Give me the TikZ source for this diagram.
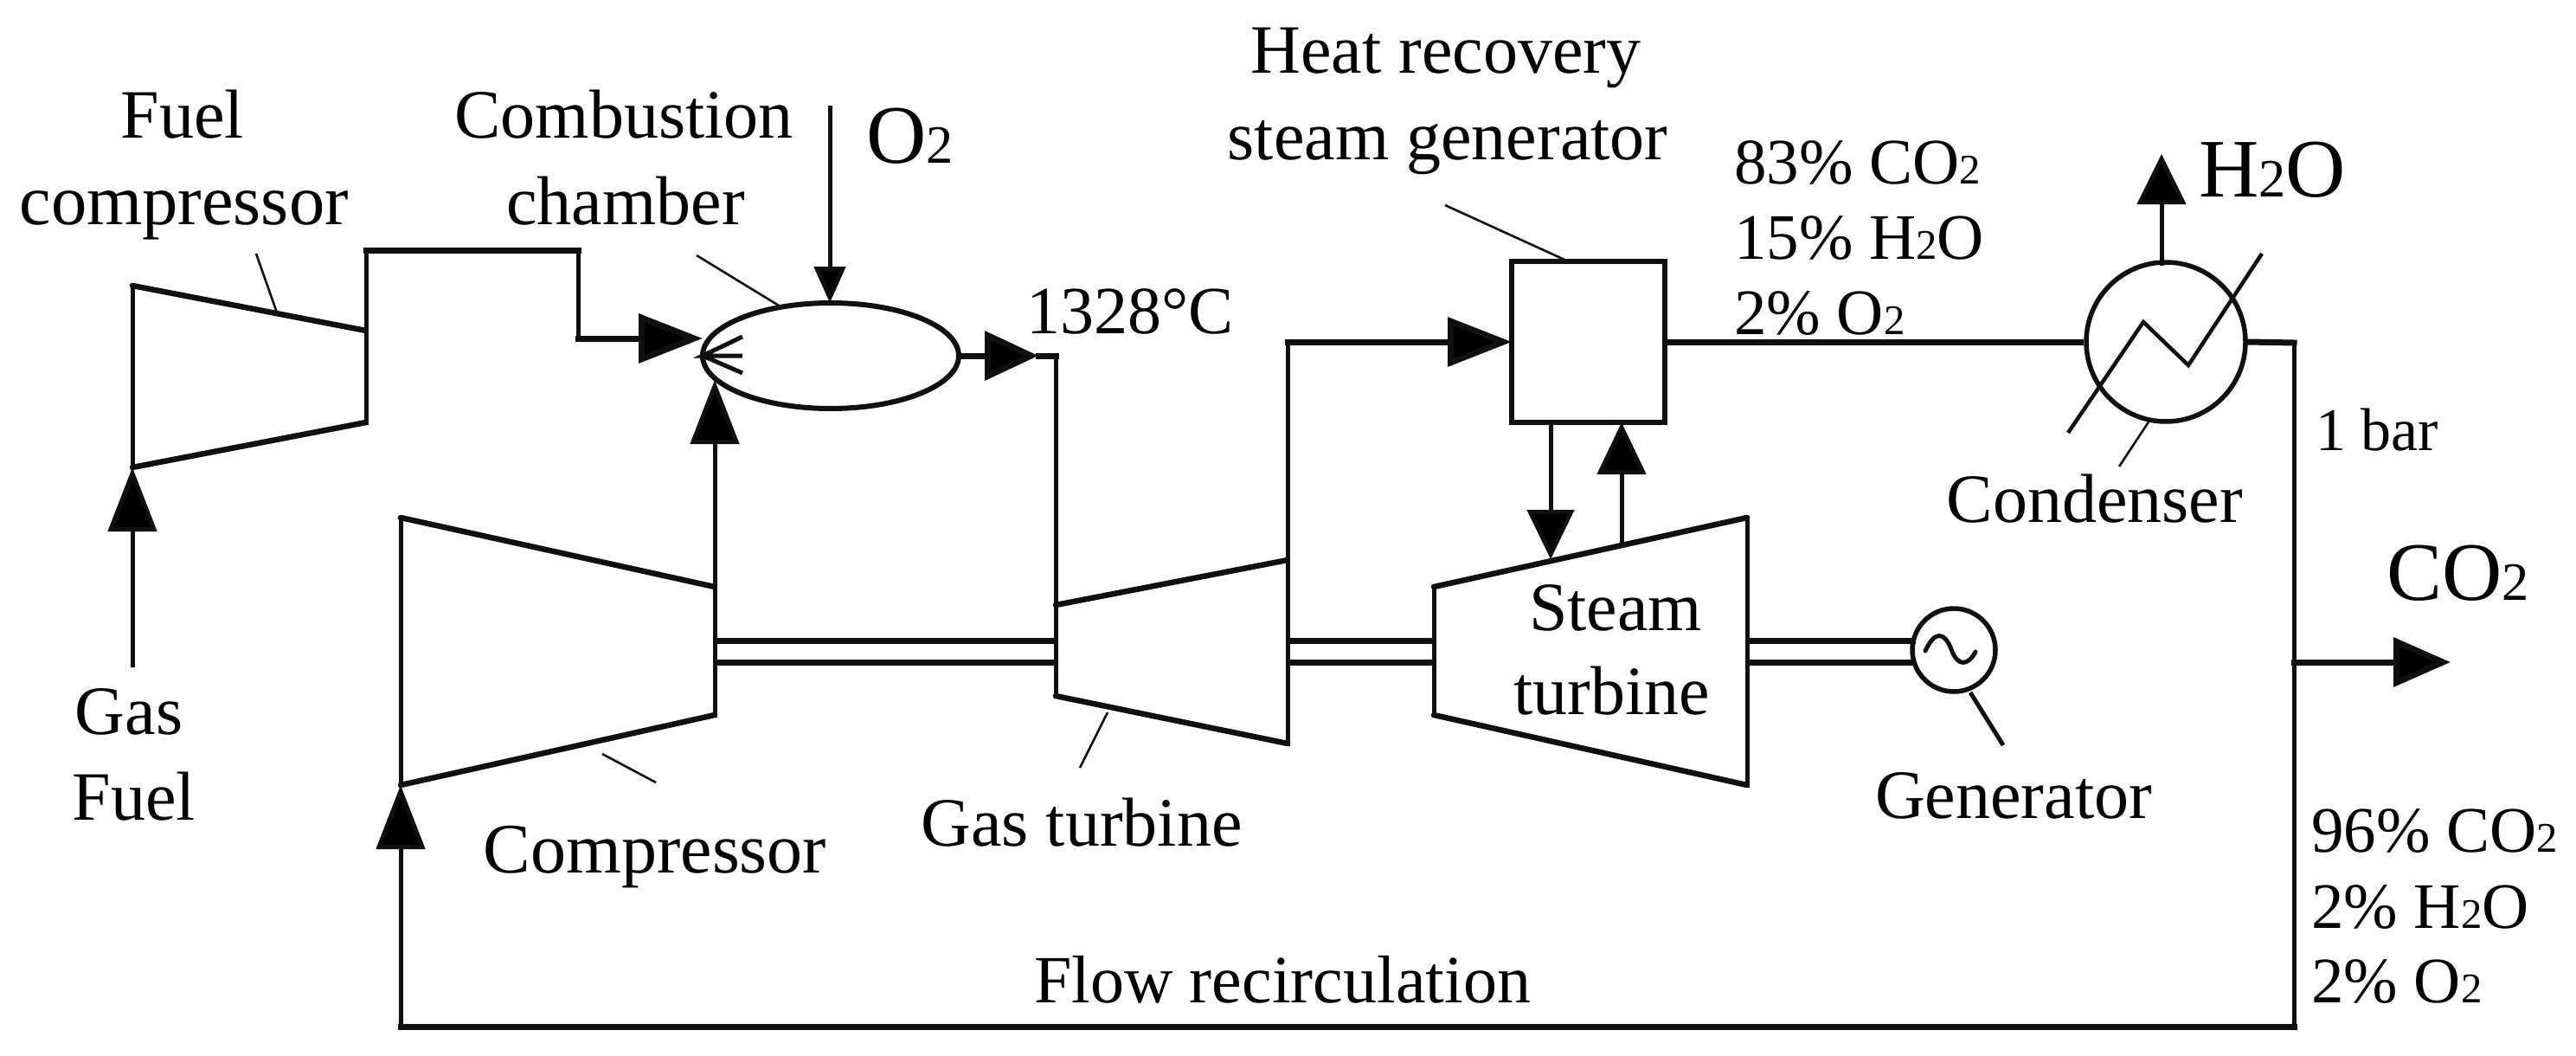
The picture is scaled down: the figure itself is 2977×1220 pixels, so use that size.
\documentclass[tikz,border=0pt]{standalone}
\usepackage{fontspec}
\setmainfont{Liberation Serif}
\usetikzlibrary{arrows.meta,shapes.geometric}
\newcommand\subtwo{\scalebox{0.65}{2}}
\definecolor{ink}{HTML}{101010}
\tikzset{
  x=1pt,y=-1pt,
  hl/.style={draw=ink,line width=7pt,line cap=rect},
  vl/.style={draw=ink,line width=5pt,line cap=rect},
  sl/.style={draw=ink,line width=6.5pt,line cap=round},
  ld/.style={draw=ink,line width=2.6pt},
  bigtip/.style={-{Triangle[length=74pt,width=56pt,fill=black]}},
  smalltip/.style={-{Triangle[length=42pt,width=36pt,fill=black]}},
  lbl/.style={anchor=base,inner sep=0pt,text=black,font=\fontsize{80}{96}\selectfont},
  lbll/.style={lbl,anchor=base west},
  pct/.style={lbll,font=\fontsize{75}{90}\selectfont},
  big/.style={lbll,font=\fontsize{96}{110}\selectfont},
}
\begin{document}
\begin{tikzpicture}
\useasboundingbox (0,0) rectangle (2977,1220);
% fuel compressor
\coordinate (fa) at (153,330); \coordinate (fb) at (423,382);
\coordinate (fc) at (423,488); \coordinate (fd) at (153,540);
\draw[vl] (fa)--(fd) (fb)--(fc);
\draw[sl] (fa)--(fb) (fc)--(fd);
% compressor
\coordinate (ca) at (463,598); \coordinate (cb) at (826,678);
\coordinate (cc) at (826,826); \coordinate (cd) at (463,907);
\draw[vl] (ca)--(cd) (cb)--(cc);
\draw[sl] (ca)--(cb) (cc)--(cd);
% gas turbine
\coordinate (ga) at (1220,699); \coordinate (gb) at (1488,647);
\coordinate (gc) at (1488,859); \coordinate (gd) at (1220,804);
\draw[vl] (ga)--(gd) (gb)--(gc);
\draw[sl] (ga)--(gb) (gc)--(gd);
% steam turbine
\coordinate (sa) at (1657,678); \coordinate (sb) at (2019,598);
\coordinate (sc) at (2019,907); \coordinate (sd) at (1657,826);
\draw[vl] (sa)--(sd) (sb)--(sc);
\draw[sl] (sa)--(sb) (sc)--(sd);
% equipment
\node[ellipse,vl,minimum width=296pt,minimum height=122pt,inner sep=0pt,line width=6pt] (cham) at (960,411) {};
\node[rectangle,vl,minimum width=177pt,minimum height=186pt,inner sep=0pt,line width=5.5pt] (hrsg) at (1835.5,395) {};
\node[circle,vl,minimum size=184pt,inner sep=0pt,line width=5.5pt] (cond) at (2503,395) {};
\node[circle,vl,minimum size=96pt,inner sep=0pt,line width=5.5pt] (gen) at (2258,751) {};
% burner mark
\coordinate (b0) at (812,411); \coordinate (b1) at (858,389);
\coordinate (b2) at (858,411); \coordinate (b3) at (858,431);
\draw[vl,line cap=butt] (b1)--(b0)--(b2) (b0)--(b3);
% condenser coil
\coordinate (z0) at (2390,500); \coordinate (z1) at (2477,372);
\coordinate (z2) at (2529,422); \coordinate (z3) at (2614,293);
\draw[vl,line width=4.5pt,line cap=butt] (z0)--(z1)--(z2)--(z3);
% generator wave
\coordinate (w0) at (2225,752); \coordinate (wm) at (2255,750); \coordinate (w1) at (2283,753);
\draw[draw=ink,line width=5pt,line cap=round] (w0) .. controls (2236,728) and (2247,730) .. (wm)
  .. controls (2262,770) and (2274,770) .. (w1);
% shafts
\coordinate (s1a) at (826,740); \coordinate (s1b) at (1220,740);
\coordinate (s2a) at (826,765); \coordinate (s2b) at (1220,765);
\coordinate (s3a) at (1488,740); \coordinate (s3b) at (1657,740);
\coordinate (s4a) at (1488,765); \coordinate (s4b) at (1657,765);
\coordinate (s5a) at (2019,740); \coordinate (s5b) at (2214,740);
\coordinate (s6a) at (2019,765); \coordinate (s6b) at (2214,765);
\draw[hl,line cap=butt] (s1a)--(s1b) (s2a)--(s2b) (s3a)--(s3b) (s4a)--(s4b) (s5a)--(s5b) (s6a)--(s6b);
% fuel line
\coordinate (p1) at (423,289); \coordinate (p2) at (668,289);
\coordinate (p3) at (668,391); \coordinate (p4) at (812,391);
\draw[vl] (fb)--(p1) (p2)--(p3);
\draw[hl] (p1)--(p2);
\draw[hl,bigtip] (p3)--(p4);
% gas fuel inlet
\coordinate (gf) at (153,768);
\draw[vl,bigtip] (gf)--(fd);
% compressor outlet to chamber
\coordinate (c1) at (826,439);
\draw[vl,bigtip] (cb)--(c1);
% O2 inlet
\coordinate (o1) at (959,125); \coordinate (o2) at (959,350);
\draw[vl,smalltip] (o1)--(o2);
% chamber outlet to turbine
\coordinate (t1) at (1107,411); \coordinate (t2) at (1200,411);
\draw[hl,line cap=butt,-{Triangle[length=62pt,width=56pt,fill=black]}] (t1)--(t2);
\coordinate (t3) at (1220,411);
\draw[hl] (t2)--(t3);
\draw[vl] (t3)--(ga);
% turbine to HRSG
\coordinate (h1) at (1488,395); \coordinate (h2) at (1747,395);
\draw[vl] (gb)--(h1);
\draw[hl,bigtip] (h1)--(h2);
% steam loop
\coordinate (d1) at (1792,488); \coordinate (d2) at (1792,646);
\coordinate (u1) at (1874,627); \coordinate (u2) at (1874,488);
\draw[vl,-{Triangle[length=57pt,width=54pt,fill=black]}] (d1)--(d2);
\draw[vl,-{Triangle[length=60pt,width=56pt,fill=black]}] (u1)--(u2);
% to condenser and return
\coordinate (r1) at (2651,396); \coordinate (r2) at (2651,1186);
\coordinate (r3) at (463,1186); \coordinate (r4) at (463,907);
\draw[hl,line cap=butt] (hrsg.east)--(cond.west);
\draw[hl] (cond.east)--(r1);
\draw[vl] (r1)--(r2);
\draw[hl] (r2)--(r3);
\draw[vl,bigtip] (r3)--(r4);
% water out
\coordinate (w2) at (2498,304); \coordinate (w3) at (2498,178);
\draw[vl,-{Triangle[length=58pt,width=56pt,fill=black]}] (w2)--(w3);
% CO2 out
\coordinate (x1) at (2651,765); \coordinate (x2) at (2832,765);
\draw[hl,-{Triangle[length=66pt,width=56pt,fill=black]}] (x1)--(x2);
% leaders
\coordinate (l1a) at (296,293); \coordinate (l1b) at (321,364);
\coordinate (l2a) at (805,295); \coordinate (l2b) at (900,353);
\coordinate (l3a) at (696,871); \coordinate (l3b) at (758,904);
\coordinate (l4a) at (1280,823); \coordinate (l4b) at (1248,887);
\coordinate (l5a) at (1670,237); \coordinate (l5b) at (1808,300);
\coordinate (l6a) at (2484,486); \coordinate (l6b) at (2449,539);
\coordinate (l7a) at (2277,800); \coordinate (l7b) at (2315,861);
\draw[ld] (l1a)--(l1b) (l2a)--(l2b) (l3a)--(l3b) (l4a)--(l4b) (l5a)--(l5b) (l6a)--(l6b);
\draw[vl,line cap=butt] (l7a)--(l7b);
% labels
\node[lbl] (t01) at (211,160) {Fuel};
\node[lbl,anchor=base east,font=\fontsize{82.5}{98}\selectfont] (t02) at (403,259) {compressor};
\node[lbl] (t03) at (721,160) {Combustion};
\node[lbl] (t04) at (723,259) {chamber};
\node[big] (t05) at (1001,189) {O\subtwo};
\node[lbll,font=\fontsize{78}{94}\selectfont] (t06) at (1186,385) {1328°C};
\node[lbl] (t07) at (1671,85) {Heat recovery};
\node[lbl] (t08) at (1673,184) {steam generator};
\node[pct] (t09) at (2004,212) {83\% CO\subtwo};
\node[pct] (t10) at (2004,299) {15\% H\subtwo O};
\node[pct] (t11) at (2004,386) {2\% O\subtwo};
\node[big] (t12) at (2541,227) {H\subtwo O};
\node[lbll,font=\fontsize{70}{84}\selectfont] (t13) at (2676,520) {1 bar};
\node[lbl] (t14) at (2421,603) {Condenser};
\node[lbl] (t15) at (1867,728) {Steam};
\node[lbl] (t16) at (1863,825) {turbine};
\node[lbl] (t17) at (1250,977) {Gas turbine};
\node[lbl] (t18) at (2327,945) {Generator};
\node[lbl,font=\fontsize{82}{98}\selectfont] (t19) at (757,1008) {Compressor};
\node[lbl] (t20) at (149,848) {Gas};
\node[lbl] (t21) at (155,947) {Fuel};
\node[lbl,font=\fontsize{78}{94}\selectfont] (t22) at (1482,1158) {Flow recirculation};
\node[big] (t23) at (2758,693) {CO\subtwo};
\node[pct] (t24) at (2671,984) {96\% CO\subtwo};
\node[pct] (t25) at (2671,1072) {2\% H\subtwo O};
\node[pct] (t26) at (2671,1158) {2\% O\subtwo};
\end{tikzpicture}
\end{document}
